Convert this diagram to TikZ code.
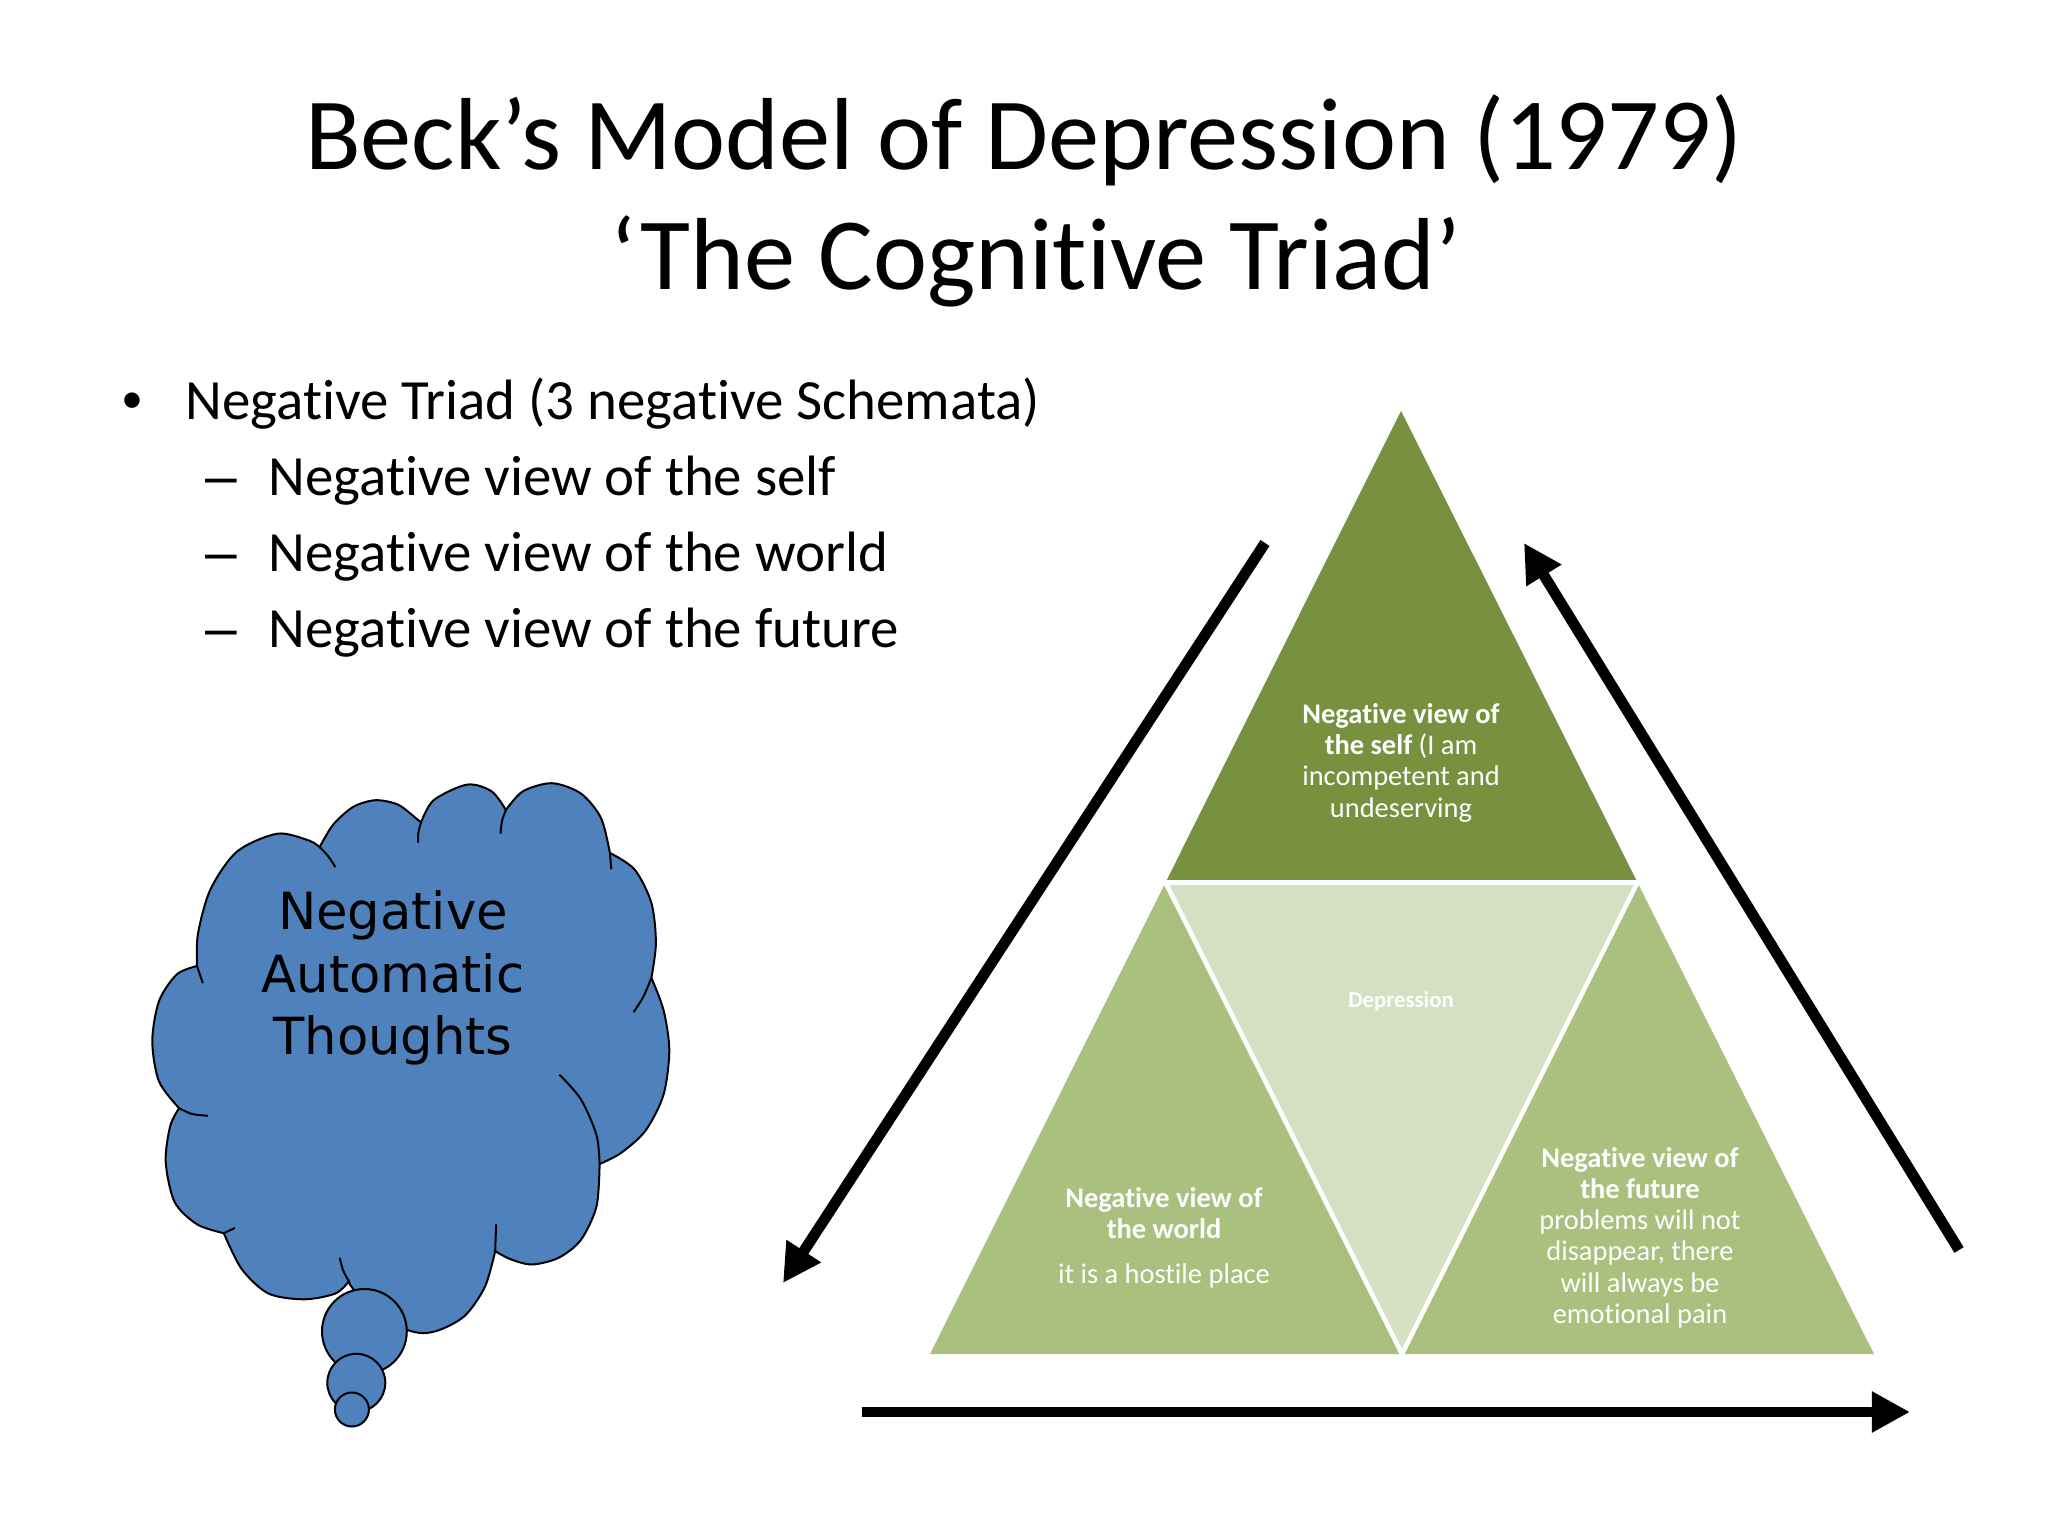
\documentclass[tikz,border=0pt]{standalone}
\usepackage{fontspec}
\setmainfont{Carlito}[Ligatures=NoCommon]
\newfontfamily\cloudfont{DejaVu Sans}
\newfontfamily\dashfont{Liberation Sans}
\usetikzlibrary{arrows.meta}
\definecolor{olivedark}{HTML}{77913F}
\definecolor{olivemid}{HTML}{AAC07E}
\definecolor{olivelight}{HTML}{D5DFC2}
\definecolor{cloudblue}{HTML}{4F81BD}
\begin{document}
\begin{tikzpicture}[x=0.3515625pt, y=-0.3515625pt,
  titletext/.style={font=\fontsize{36}{42}\selectfont, anchor=base, inner sep=0},
  bullettext/.style={font=\fontsize{20}{24}\selectfont, anchor=base west, inner sep=0},
  bulletmark/.style={font=\dashfont\fontsize{20}{24}\selectfont, anchor=base west, inner sep=0},
  tritext/.style={font=\fontsize{10}{10.9}\selectfont, text=white, align=center, anchor=base, inner sep=0},
  gapline/.style={draw=white, line width=1.6pt, line join=miter},
  bigarrow/.style={line width=3.8pt, -{Triangle[length=13.4pt, width=13.6pt]}},
  cloudline/.style={draw=black, line width=0.7pt},
  bubble/.style={fill=cloudblue, draw=black, line width=0.7pt}
]
\useasboundingbox[fill=white] (0,0) rectangle (2048,1536);

% ---- title ----
\node[titletext] (title1) at (1024,170) {Beck’s Model of Depression (1979)};
\node[titletext] (title2) at (1036,290) {‘The Cognitive Triad’};

% ---- bullets ----
\node[bulletmark] (dot1) at (122,420) {•};
\node[bullettext] (b1) at (185,420) {Negative Triad (3 negative Schemata)};
\node[bulletmark] (dash2) at (205,496) {–};
\node[bullettext] (b2) at (268,496) {Negative view of the self};
\node[bulletmark] (dash3) at (205,572) {–};
\node[bullettext] (b3) at (268,572) {Negative view of the world};
\node[bulletmark] (dash4) at (205,648) {–};
\node[bullettext] (b4) at (268,648) {Negative view of the future};

% ---- triangle ----
\coordinate (A) at (1401,411);
\coordinate (B) at (930,1354);
\coordinate (C) at (1874,1354);
\coordinate (AB) at (1165.5,882.5);
\coordinate (AC) at (1637.5,882.5);
\coordinate (BC) at (1402,1354);
\fill[olivedark] (A) -- (AC) -- (AB) -- cycle;
\fill[olivemid] (AB) -- (BC) -- (B) -- cycle;
\fill[olivemid] (AC) -- (C) -- (BC) -- cycle;
\fill[olivelight] (AB) -- (AC) -- (BC) -- cycle;
\draw[gapline] (AB) -- (AC) -- (BC) -- cycle;

\node[tritext] (selftxt) at (1401,817) {\textbf{Negative view of}\\\textbf{the self} (I am\\incompetent and\\undeserving};
\node[tritext, font=\bfseries\fontsize{8}{9}\selectfont] (deptxt) at (1401,1007) {Depression};
\node[tritext] (worldtxt) at (1164,1283) {\textbf{Negative view of}\\\textbf{the world}\\[4.9pt]it is a hostile place};
\node[tritext] (futuretxt) at (1640,1323) {\textbf{Negative view of}\\\textbf{the future}\\problems will not\\disappear, there\\will always be\\emotional pain};

% ---- arrows ----
\coordinate (lt) at (1265,543);
\coordinate (lh) at (783,1283);
\coordinate (rt) at (1959,1250);
\coordinate (rh) at (1524,543);
\coordinate (bt) at (862,1412);
\coordinate (bh) at (1910,1412);
\draw[bigarrow] (lt) -- (lh);
\draw[bigarrow] (rt) -- (rh);
\draw[bigarrow] (bt) -- (bh);

% ---- cloud ----
\filldraw[fill=cloudblue, cloudline]
  plot[smooth] coordinates {(197,966) (197.9,934.1) (210.4,889.5) (237.1,851.5) (277.3,833.7) (308.6,840.4) (319.7,847.1)}
  -- plot[smooth] coordinates {(319.7,847.1) (333.1,824.7) (353.2,806.9) (375.5,800.2) (397.9,804.6) (415.7,818.0) (421.1,822.5)}
  -- plot[smooth] coordinates {(421.1,822.5) (433.6,800.2) (467.1,784.6) (491.6,791.3) (505.9,810.0)}
  -- plot[smooth] coordinates {(505.9,810.0) (522.9,791.3) (551.9,783.2) (580.9,793.5) (601.0,818.0) (609.9,852.9)}
  -- plot[smooth] coordinates {(609.9,852.9) (634.5,869.4) (651.4,902.9) (655.9,943.0) (651.4,977.9)}
  -- plot[smooth] coordinates {(651.4,977.9) (663.5,1010.0) (669.3,1050.2) (663.5,1094.8) (645.6,1130.5) (621.1,1152.9) (599.6,1164.0)}
  -- plot[smooth] coordinates {(599.6,1164.0) (596.5,1206.4) (580.9,1239.9) (558.6,1257.8) (531.8,1264.5) (510,1259) (495.2,1251.1)}
  -- plot[smooth] coordinates {(495.2,1251.1) (484.9,1286.8) (464.8,1315.8) (438.0,1330.5) (415.7,1332.3) (380.0,1318.0) (353.2,1289.0) (348.8,1281.4)}
  -- plot[smooth] coordinates {(348.8,1281.4) (335.4,1293.5) (304.1,1299.3) (268.4,1293.5) (241.6,1268.9) (223.8,1233.2)}
  -- plot[smooth] coordinates {(223.8,1233.2) (197.0,1224.3) (174.6,1202.0) (165.7,1161.8) (170.2,1126.1) (179.1,1108.2)}
  -- plot[smooth] coordinates {(179.1,1108.2) (159.0,1081.4) (152.3,1041.3) (159.0,1001.1) (176.9,974.3) (197,966)}
  -- cycle;
\draw[cloudline] plot[smooth] coordinates {(319.7,847.1) (328,856) (335.4,867.1)};
\draw[cloudline] plot[smooth] coordinates {(418.0,842.6) (418.5,832) (421.1,822.5)};
\draw[cloudline] plot[smooth] coordinates {(500.5,833.7) (502,821) (505.9,810.0)};
\draw[cloudline] plot[smooth] coordinates {(609.9,852.9) (611.3,869.4)};
\draw[cloudline] plot[smooth] coordinates {(651.4,977.9) (643.4,996.6) (633.6,1012.2)};
\draw[cloudline] plot[smooth] coordinates {(559.5,1074.7) (580.9,1099.3) (596.5,1135.0) (599.6,1164.0)};
\draw[cloudline] plot[smooth] coordinates {(496.1,1224.3) (495.2,1251.1)};
\draw[cloudline] plot[smooth] coordinates {(348.8,1281.4) (343,1270) (339.8,1257.8)};
\draw[cloudline] plot[smooth] coordinates {(223.8,1233.2) (234.9,1227.9)};
\draw[cloudline] plot[smooth] coordinates {(179.1,1108.2) (192,1114) (208.1,1115.8)};
\draw[cloudline] plot[smooth] coordinates {(202.8,983.2) (197,966)};

\filldraw[bubble] (364.4,1331.4) circle[radius=42.4];
\filldraw[bubble] (356.3,1382.8) circle[radius=29];
\filldraw[bubble] (351.9,1409.5) circle[radius=17];

\node[font=\cloudfont\fontsize{18}{22}\selectfont, align=center, anchor=base, inner sep=0] (natxt) at (393,1054.6) {Negative\\Automatic\\Thoughts};
\end{tikzpicture}
\end{document}
